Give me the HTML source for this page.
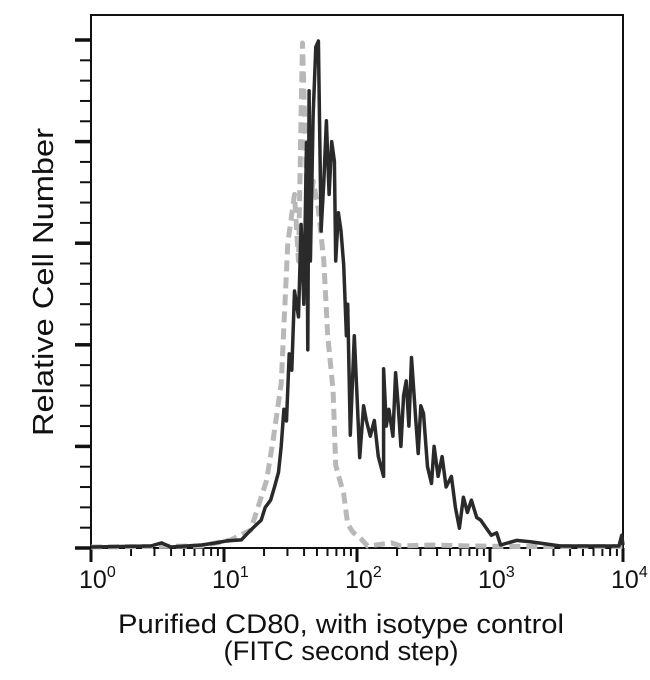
<!DOCTYPE html>
<html><head><meta charset="utf-8"><style>
body{margin:0;background:#fff;}
svg{display:block;font-family:"Liberation Sans",Arial,sans-serif;}
</style></head><body>
<svg id="chart" width="650" height="680" viewBox="0 0 650 680">
<g id="axes"></g>
<g id="series"></g>
<text x="0" y="0" transform="translate(53,282) rotate(-90)" text-anchor="middle" font-size="29" textLength="308" lengthAdjust="spacingAndGlyphs" fill="#111">Relative Cell Number</text>
<text x="341" y="633" text-anchor="middle" font-size="27" textLength="446" lengthAdjust="spacingAndGlyphs" fill="#111">Purified CD80, with isotype control</text>
<text x="341" y="660" text-anchor="middle" font-size="27" textLength="235" lengthAdjust="spacingAndGlyphs" fill="#111">(FITC second step)</text>
</svg>
<script>
const blackLogX=[0,0.45,0.53,0.6,0.83,0.94,1.02,1.13,1.2,1.24,1.28,1.31,1.35,1.38,1.41,1.43,1.45,1.47,1.49,1.51,1.53,1.56,1.58,1.6,1.62,1.63,1.64,1.65,1.67,1.69,1.71,1.73,1.75,1.77,1.79,1.81,1.83,1.84,1.86,1.88,1.9,1.92,1.93,1.95,1.98,2.0,2.02,2.05,2.07,2.1,2.13,2.16,2.2,2.2,2.22,2.24,2.27,2.29,2.31,2.33,2.35,2.37,2.39,2.41,2.44,2.46,2.48,2.5,2.53,2.56,2.58,2.61,2.64,2.67,2.71,2.74,2.77,2.8,2.83,2.86,2.9,2.93,2.97,3.01,3.05,3.08,3.2,3.31,3.53,3.83,3.97,3.99,4.0];
const blackCounts=[0.2,0.4,1,0.2,0.6,1,1.4,1.6,3.5,4.5,5.5,8,9.4,12,14.9,20,27.3,25,38.2,35,50.6,45.5,63.7,48,79.8,39,90,56.5,85,98.6,99.8,62.4,72,84.1,69.6,80,76.1,56.5,66,62.4,55.7,41.8,48,22.2,41.8,30,17.8,28,25.1,22,25.1,18,14.1,35.3,24,27.3,22,34.5,28,20,30,32.9,24,37.5,26,18.6,28,26.5,16,12.7,20,14.1,18,12,14.1,8,3.9,10,7,9.4,6,5.5,4,2.5,3,0.6,1.5,1.2,0.4,0.4,0.4,2.5,0.6];
const isoLogX=[0,0.83,1.05,1.2,1.32,1.37,1.43,1.48,1.53,1.56,1.58,1.59,1.63,1.67,1.71,1.75,1.78,1.82,1.84,1.9,1.93,1.97,2.03,2.08,2.26,2.33,2.56,2.86,3.2,3.6,4.0];
const isoCounts=[0.2,0.4,1.6,3.5,13.3,21.4,32.4,60,69.6,56.5,85.5,99.4,63.7,72.2,66.7,56.5,41.8,31,16.3,10.6,4.7,3.1,1.8,0.4,1,0.4,0.6,0.4,0.3,0.3,0.3];
const xTickExps=[0,1,2,3,4];
const yMajorTicks=[0,20,40,60,80,100];

const X0=91,X1=623,Y0=548,Y1=15;
const xs=v=>X0+(X1-X0)*v/4;
const ys=c=>Y0-c*5.08;
const NS="http://www.w3.org/2000/svg";
function mk(t,a,p){const e=document.createElementNS(NS,t);for(const k in a)e.setAttribute(k,a[k]);p.appendChild(e);return e;}
const ax=document.getElementById('axes');
const frame=mk('rect',{x:X0,y:Y1,width:X1-X0,height:Y0-Y1,fill:'none',stroke:'#111','stroke-width':2},ax);


for(let i=0;i<yMajorTicks.length;i++){
  const y=ys(yMajorTicks[i]);
  const t=mk('line',{x1:75,x2:X0,y1:y,y2:y,stroke:'#111','stroke-width':3.5},ax);
  
  
  if(i<yMajorTicks.length-1){
    for(let j=1;j<5;j++){
      const ym=ys(yMajorTicks[i]+(yMajorTicks[i+1]-yMajorTicks[i])*j/5);
      const m=mk('line',{x1:80,x2:X0,y1:ym,y2:ym,stroke:'#111','stroke-width':2},ax);
      
      
    }
  }
}
for(let i=0;i<xTickExps.length;i++){
  const e=xTickExps[i];const x=xs(e);
  const t=mk('line',{x1:x,x2:x,y1:Y0,y2:Y0+14,stroke:'#111','stroke-width':3},ax);
  
  
  const lab=mk('text',{x:x-12,y:588,'font-size':25,fill:'#111'},ax);
  
  
  lab.textContent='10';
  const sup=mk('tspan',{dy:-11,'font-size':16},lab);sup.textContent=String(e);
  if(i<xTickExps.length-1){
    for(let k=2;k<10;k++){
      const xm=xs(e+Math.log10(k));
      const m=mk('line',{x1:xm,x2:xm,y1:Y0,y2:Y0+8,stroke:'#111','stroke-width':2},ax);
      
      
    }
  }
}
const se=document.getElementById('series');
function pts(lx,c){return lx.map((v,i)=>xs(v).toFixed(1)+','+ys(c[i]).toFixed(1)).join(' ');}
const iso=mk('polyline',{points:pts(isoLogX,isoCounts),fill:'none',stroke:'#b8b8b8','stroke-width':5,'stroke-dasharray':'11 6','stroke-linejoin':'round'},se);


const cd=mk('polyline',{points:pts(blackLogX,blackCounts),fill:'none',stroke:'#2a2a2a','stroke-width':3.5,'stroke-linejoin':'round'},se);


</script>
</body></html>
